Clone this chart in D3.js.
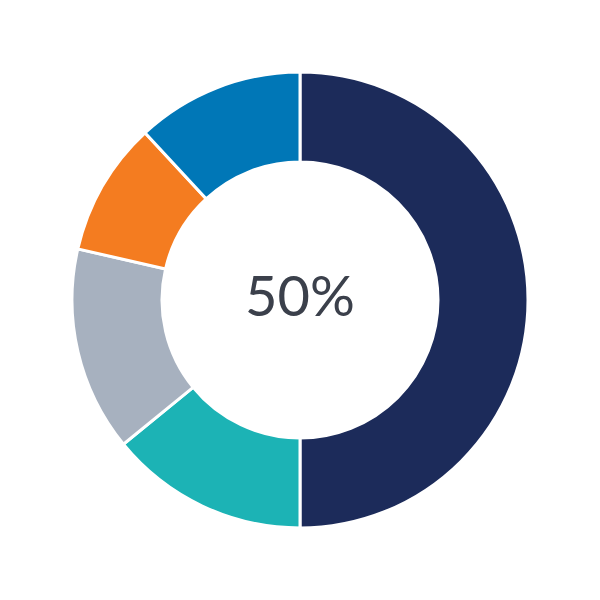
<!DOCTYPE html>
<html>
<head>
<meta charset="utf-8">
<script src="https://cdn.jsdelivr.net/npm/d3@7"></script>
<style>
  body { margin: 0; background: #fff; }
</style>
</head>
<body>
<div id="chart"></div>
<script>
// slices, clockwise from 12 o'clock
const labels = ["Navy", "Teal", "Grey", "Orange", "Blue"];
const values = [50, 14.1, 14.5, 9.5, 11.9];
const colors = ["#1c2b5a", "#1cb3b5", "#a7b1bf", "#f47c20", "#0077b7"];
const centerLabel = "50%";

const W = 600, H = 600;
const cx = 300, cy = 300;
const rOuter = 228, rInner = 138;

const svg = d3.select("#chart").append("svg")
    .attr("width", W)
    .attr("height", H);

const g = svg.append("g").attr("transform", "translate(" + cx + "," + cy + ")");

const pie = d3.pie().sort(null).value(d => d.v);
const arc = d3.arc().innerRadius(rInner).outerRadius(rOuter);

const slices = labels.map((l, i) => ({ label: l, v: values[i], c: colors[i] }));

g.selectAll("path")
    .data(pie(slices)).enter()
    .append("path")
    .attr("d", arc)
    .attr("fill", d => d.data.c)
    .attr("stroke", "#fff")
    .attr("stroke-width", 3);

g.append("text")
    .attr("x", 0)
    .attr("y", 16)
    .attr("text-anchor", "middle")
    .attr("font-family", "Lato, sans-serif")
    .attr("font-size", "56px")
    .attr("fill", "#3b404b")
    .text(centerLabel);
</script>
</body>
</html>
